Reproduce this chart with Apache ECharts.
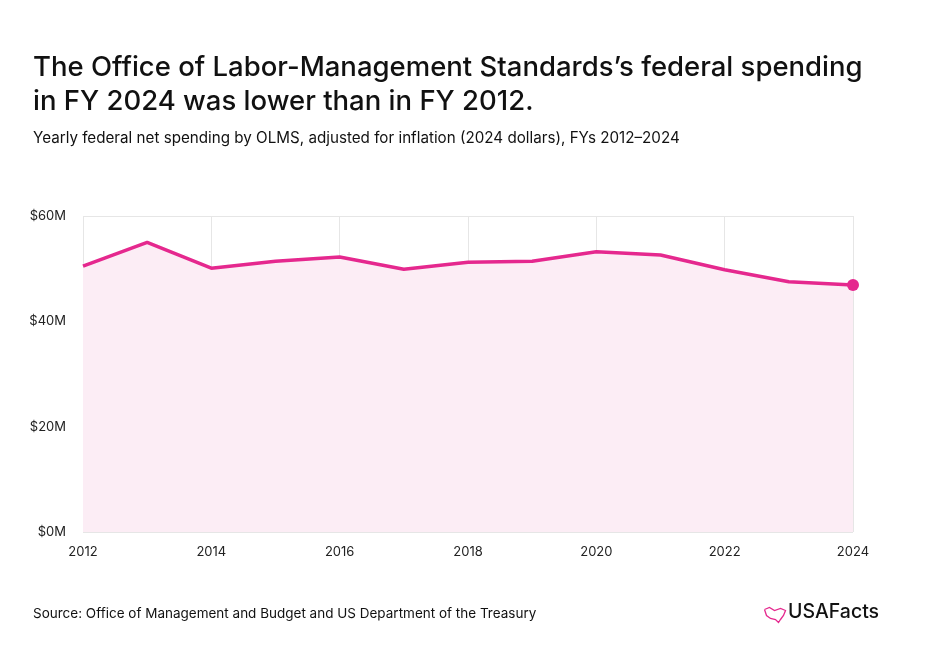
<!DOCTYPE html>
<html>
<head>
<meta charset="utf-8">
<script src="https://cdn.jsdelivr.net/npm/echarts@6/dist/echarts.min.js"></script>
<style>
  html, body { margin: 0; padding: 0; background: #fff; }
  #chart { width: 929px; height: 661px; }
</style>
</head>
<body>
<div id="chart"></div>
<script>
const years = ['2012', '2013', '2014', '2015', '2016', '2017', '2018', '2019', '2020', '2021', '2022', '2023', '2024']
// net spending, millions of 2024 dollars
const spending = [50.5, 55.0, 50.1, 51.4, 52.2, 49.9, 51.2, 51.4, 53.2, 52.6, 49.8, 47.5, 46.9]
const yTicks = [0, 20, 40, 60]

const pink = '#e5288e'
const font = 'Inter, "Noto Sans", sans-serif'

const chart = echarts.init(document.getElementById('chart'))
chart.setOption({
  backgroundColor: '#fff',
  animation: false,
  title: [
    {
      text: 'The Office of Labor-Management Standards\u2019s federal spending\nin FY 2024 was lower than in FY 2012.',
      left: 33,
      top: 51,
      padding: 0,
      textStyle: { fontFamily: font, fontSize: 27.5, fontWeight: 500, color: '#111', lineHeight: 34 }
    },
    {
      text: 'Yearly federal net spending by OLMS, adjusted for inflation (2024 dollars), FYs 2012\u20132024',
      left: 33,
      top: 131,
      padding: 0,
      textStyle: { fontFamily: font, fontSize: 15.2, fontWeight: 400, color: '#111' }
    },
    {
      text: 'Source: Office of Management and Budget and US Department of the Treasury',
      left: 33,
      top: 607,
      padding: 0,
      textStyle: { fontFamily: font, fontSize: 13.5, fontWeight: 400, color: '#111' }
    }
  ],
  graphic: [
    {
      type: 'polyline',
      left: 762,
      top: 605,
      shape: {
        points: [[0, 2], [5, 0], [10, 3], [16, 1], [21, 3], [19, 8], [16, 12], [14, 15], [11, 12], [6, 11], [2, 8], [0, 2]]
      },
      style: { stroke: pink, fill: 'none', lineWidth: 1.3 }
    },
    {
      type: 'text',
      left: 788,
      top: 602,
      style: { text: 'USAFacts', fontFamily: font, fontSize: 19.5, fontWeight: 500, fill: '#111' }
    }
  ],
  grid: { left: 83, right: 76, top: 216, bottom: 129 },
  xAxis: {
    type: 'category',
    data: years,
    boundaryGap: false,
    axisLine: { show: false },
    axisTick: { show: false },
    axisLabel: {
      interval: 1,
      margin: 14,
      fontFamily: font,
      fontSize: 13,
      color: '#222'
    },
    splitLine: { show: true, interval: 1, lineStyle: { color: '#e6e6e6', width: 1 } }
  },
  yAxis: {
    type: 'value',
    min: 0,
    max: 60,
    interval: 20,
    axisLine: { show: false },
    axisTick: { show: false },
    axisLabel: {
      margin: 17,
      fontFamily: font,
      fontSize: 13,
      color: '#222',
      formatter: v => yTicks.includes(v) ? '$' + v + 'M' : ''
    },
    splitLine: { lineStyle: { color: '#e6e6e6', width: 1 } }
  },
  series: [
    {
      type: 'line',
      data: spending.map((v, i) => i === spending.length - 1
        ? { value: v, symbol: 'circle', symbolSize: 12 }
        : { value: v, symbol: 'none' }),
      showSymbol: true,
      lineStyle: { color: pink, width: 3.5 },
      itemStyle: { color: pink },
      areaStyle: { color: '#fcedf5', opacity: 1 },
      z: 3
    }
  ]
})
</script>
</body>
</html>
